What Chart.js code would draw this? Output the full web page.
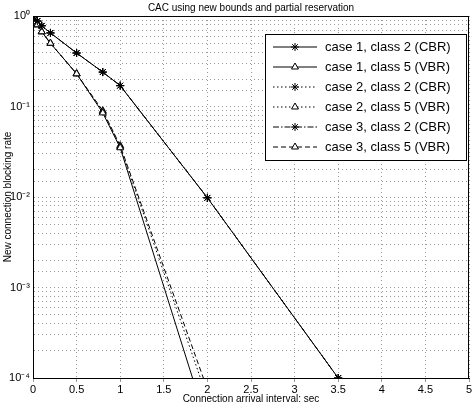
<!DOCTYPE html>
<html>
<head>
<script src="https://cdn.jsdelivr.net/npm/chart.js@4"></script>
<style>body{margin:0;background:#fff}</style>
</head>
<body>
<canvas id="c" width="474" height="404"></canvas>
<script>
// datos
const xCbr = [0, 0.05, 0.1, 0.2, 0.5, 0.8, 1, 2, 3.5]
const cbr1 = [1, 0.88, 0.78, 0.65, 0.39, 0.24, 0.17, 0.0098, 0.0001]
const cbr2 = [1, 0.88, 0.78, 0.65, 0.39, 0.24, 0.17, 0.0098, 0.0001]
const cbr3 = [1, 0.88, 0.78, 0.65, 0.39, 0.24, 0.17, 0.0098, 0.0001]
const xVbr = [0, 0.05, 0.1, 0.2, 0.5, 0.8, 1, 2]
const vbr1 = [1, 0.8, 0.67, 0.5, 0.23, 0.085, 0.035, 0.00003]
const vbr2 = [1, 0.8, 0.67, 0.5, 0.23, 0.088, 0.036, 0.00006]
const vbr3 = [1, 0.8, 0.67, 0.5, 0.23, 0.09, 0.037, 0.000075]
const xTicks = [0, 0.5, 1, 1.5, 2, 2.5, 3, 3.5, 4, 4.5, 5]
const legendLabels = ['case 1, class 2 (CBR)', 'case 1, class 5 (VBR)', 'case 2, class 2 (CBR)',
    'case 2, class 5 (VBR)', 'case 3, class 2 (CBR)', 'case 3, class 5 (VBR)']

const toPts = (xs, ys) => xs.map((x, i) => ({ x: x, y: ys[i] }))
const dashes = [[], [], [1.5, 2.5], [1.5, 2.5], [6, 2, 1.5, 2], [5, 3]]
const marks = ['star', 'triangle', 'star', 'triangle', 'star', 'triangle']
const series = [[xCbr, cbr1], [xVbr, vbr1], [xCbr, cbr2], [xVbr, vbr2], [xCbr, cbr3], [xVbr, vbr3]]

const datasets = series.map((s, i) => ({
    label: legendLabels[i],
    data: toPts(s[0], s[1]),
    borderColor: '#000',
    backgroundColor: '#fff',
    borderWidth: 1,
    borderDash: dashes[i],
    pointStyle: marks[i],
    pointRadius: s[1].map(v => v < 1e-4 ? 0 : 4),
    pointBorderColor: '#000',
    pointBorderWidth: 1
}))

const extras = {
    id: 'extras',
    afterDraw(chart) {
        const ctx = chart.ctx
        const a = chart.chartArea
        ctx.save()
        ctx.strokeStyle = '#000'
        ctx.lineWidth = 1
        ctx.strokeRect(a.left + 0.5, a.top + 0.5, a.right - a.left - 1, a.bottom - a.top)
        ctx.fillStyle = '#000'
        ctx.font = '10px "Liberation Sans", Arial'
        ctx.textAlign = 'center'
        ctx.textBaseline = 'bottom'
        ctx.fillText('CAC using new bounds and partial reservation', (a.left + a.right) / 2, a.top - 3)
        ctx.textBaseline = 'top'
        ctx.fillText('Connection arrival interval: sec', (a.left + a.right) / 2, a.bottom + 16)
        ctx.translate(8, (a.top + a.bottom) / 2)
        ctx.rotate(-Math.PI / 2)
        ctx.textBaseline = 'middle'
        ctx.fillText('New connection blocking rate', 0, 0)
        ctx.restore()

        // leyenda
        const lx = 265, ly = 34, lw = 201, lh = 126
        ctx.save()
        ctx.fillStyle = '#fff'
        ctx.fillRect(lx, ly, lw, lh)
        ctx.strokeStyle = '#000'
        ctx.lineWidth = 1
        ctx.strokeRect(lx + 0.5, ly + 0.5, lw, lh)
        ctx.font = '13px "Liberation Sans", Arial'
        ctx.textBaseline = 'middle'
        ctx.textAlign = 'left'
        legendLabels.forEach((t, i) => {
            const y = ly + 13 + i * 20
            ctx.setLineDash(dashes[i])
            ctx.beginPath()
            ctx.moveTo(lx + 8, y)
            ctx.lineTo(lx + 52, y)
            ctx.stroke()
            ctx.setLineDash([])
            ctx.fillStyle = '#fff'
            Chart.helpers.drawPoint(ctx, { pointStyle: marks[i], radius: 4, borderWidth: 1 }, lx + 30, y)
            ctx.fillStyle = '#000'
            ctx.fillText(t, lx + 60, y)
        })
        ctx.restore()
    }
}

const sup = { '-': '\u207B', '0': '\u2070', '1': '\u00B9', '2': '\u00B2', '3': '\u00B3', '4': '\u2074' }

new Chart(document.getElementById('c'), {
    type: 'scatter',
    data: { datasets: datasets },
    options: {
        responsive: false,
        animation: false,
        showLine: true,
        layout: { padding: { top: 16, right: 4, left: 0, bottom: 0 } },
        plugins: { legend: { display: false }, tooltip: { enabled: false } },
        scales: {
            x: {
                type: 'linear', min: 0, max: 5,
                afterBuildTicks: s => { s.ticks = xTicks.map(v => ({ value: v })) },
                afterFit: s => { s.height = 26 },
                grid: { color: '#999', tickLength: 4, drawTicks: true },
                border: { color: '#000', width: 1, dash: [1, 3] },
                ticks: {
                    color: '#000', font: { size: 11, family: '"Liberation Sans", Arial' }, padding: 1, maxRotation: 0,
                    callback: v => String(v)
                }
            },
            y: {
                type: 'logarithmic', min: 1e-4, max: 1,
                afterFit: s => { s.width = 33 },
                grid: { color: '#999', tickLength: 0 },
                border: { color: '#000', width: 1, dash: [1, 3] },
                ticks: {
                    color: '#000', font: { size: 11, family: '"Liberation Sans", Arial' }, padding: 3, autoSkip: false,
                    callback: v => {
                        const e = Math.log10(v)
                        if (Math.abs(e - Math.round(e)) > 1e-9) return ''
                        return '10' + String(Math.round(e)).split('').map(c => sup[c]).join('')
                    }
                }
            }
        }
    },
    plugins: [extras]
})
</script>
</body>
</html>
